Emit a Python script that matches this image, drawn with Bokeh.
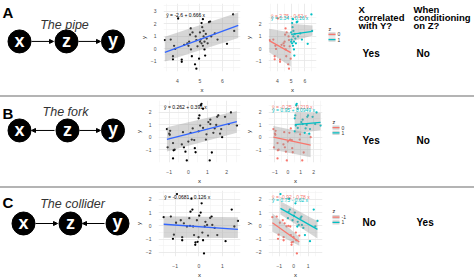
from bokeh.plotting import figure
from bokeh.models import Range1d, FixedTicker, Arrow, NormalHead, Label, Div
from bokeh.layouts import row, column
from bokeh.core.properties import value
from bokeh.embed import file_html
from bokeh.resources import INLINE

FONT = "Liberation Sans"
RED = "#F8766D"
TEAL = "#00BFC4"
BLUE = "#3366FF"

# ---------------- data ----------------
# Row A: the pipe
a_x = [3.44, 3.70, 3.85, 3.90, 3.80, 3.80, 4.19, 4.19, 4.03, 4.30, 4.44, 4.49, 4.52, 4.56, 4.59, 4.64,
       4.60, 4.81, 4.84, 4.89, 4.78, 4.84, 4.96, 5.00, 5.03, 5.07, 5.07, 5.10, 5.13, 5.16, 5.16, 5.20,
       5.23, 5.26, 5.30, 5.34, 5.13, 5.40, 5.45, 5.50, 5.66, 5.78, 6.20, 6.47, 6.52, 5.00, 4.67, 5.20]
a_y = [0.68, 0.72, 0.22, -0.03, -0.62, -0.87, -0.90, -1.07, 2.42, 0.30, 0.42, 0.22, 0.55, 1.12, 1.62, -0.62,
       -0.07, 0.98, 0.68, 0.18, -1.27, -1.62, -0.82, 1.30, 0.72, 0.42, 2.05, 1.72, 2.37, 1.42, 0.98, 0.55,
       -0.57, 1.18, 0.80, 0.42, 0.22, 2.12, 2.17, 0.98, 1.22, 0.72, 0.38, 2.75, 1.42, 0.55, 1.30, -0.07]
a_z = [0, 0, 0, 0, 0, 0, 0, 0, 0, 0, 0, 0, 0, 0, 0, 0,
       0, 0, 0, 0, 0, 0, 0, 1, 1, 1, 1, 1, 1, 1, 1, 1,
       1, 1, 1, 1, 1, 1, 1, 1, 1, 1, 1, 1, 1, 1, 0, 1]
a_fit = (-2.6, 0.666)
a_fit_ext = [3.44, 6.7]
a_band_lo = [-1.05, 0.85]
a_band_hi = [0.95, 2.9]
a_eq = "ŷ = -2.6 + 0.666 x"
a_groups = [0, 1]
a_gfit = [(2.75, -0.62), (0.34, 0.16)]
a_gext = [[3.40, 4.97], [5.0, 6.55]]
a_gband_lo = [[-0.3, -1.45], [0.55, 1.05]]
a_gband_hi = [[1.6, 1.3], [2.0, 1.85]]
a_geq = ["ŷ = 2.75 - 0.62 x", "ŷ = 0.34 + 0.16 x"]

# Row B: the fork
b_x = [-1.12, -0.95, -1.00, -0.97, -1.08, -0.80, -0.77, -0.72, -0.80, -0.34, -0.23, -0.15, -0.08, -0.28, 0.00, 0.12,
       0.18, 0.23, 0.31, 0.34, 0.38, 0.54, 0.58, 0.65, 0.69, 0.77, 0.62, 0.54, 0.77, 0.95, 0.92, 1.05,
       1.15, 1.15, 1.12, 1.23, 1.31, 1.38, 1.46, 1.51, 1.57, 1.66, 1.72, 1.77, 1.92, 2.12, 2.23, 2.54]
b_y = [0.65, 0.51, 0.28, 0.19, -0.81, -0.47, -1.05, -1.00, -1.70, -0.58, -0.81, -1.16, -1.86, 0.40, -0.35, 0.35,
       -0.19, 0.70, -0.23, -0.88, -1.21, 1.51, 1.74, 2.56, 2.67, 2.28, 0.93, 0.47, 0.74, 0.23, -0.19, 1.21,
       1.40, 1.05, -1.86, -1.23, 0.35, 0.70, 0.98, 1.63, 1.74, 0.28, 0.65, 0.00, 1.63, 1.05, 1.98, 0.93]
b_z = [0, 0, 0, 0, 0, 0, 0, 0, 0, 0, 0, 0, 0, 0, 0, 0,
       0, 0, 0, 0, 0, 1, 1, 1, 1, 1, 1, 1, 1, 0, 0, 1,
       1, 1, 0, 0, 1, 1, 1, 1, 1, 1, 1, 0, 1, 1, 1, 1]
b_fit = (0.262, 0.391)
b_fit_ext = [-1.12, 2.54]
b_band_lo = [-1.15, 0.35]
b_band_hi = [0.8, 2.1]
b_eq = "ŷ = 0.262 + 0.391 x"
b_groups = [0, 1]
b_gfit = [(-0.25, -0.219), (0.95, 0.0949)]
b_gext = [[-1.12, 1.77], [0.54, 2.54]]
b_gband_lo = [[-1.0, -1.6], [0.3, 0.55]]
b_gband_hi = [[0.9, 0.3], [2.0, 1.95]]
b_geq = ["ŷ = -0.25 - 0.219 x", "ŷ = 0.95 + 0.0949 x"]

# Row C: the collider
c_x = [-1.48, -1.18, -0.92, -0.96, -1.05, -1.09, -0.70, -0.70, -0.63, -0.50, -0.40, -0.35, -0.31, -0.27,
       -0.24, -0.20, -0.15, -0.14, -0.08, -0.05, -0.01, 0.02, 0.08, 0.12, 0.15, 0.18, 0.22, 0.25, 0.28,
       0.35, 0.39, 0.48, 0.54, 0.57, 0.67, 0.78, 1.13, 1.39, 1.50, 1.65, -0.76, -0.37]
c_y = [0.65, 0.70, 2.40, 0.23, -0.67, -0.98, -1.09, -0.86, 0.19, -0.05, 0.58, 1.07, 2.05, 1.23,
       -0.05, -0.70, -1.44, -1.26, 0.42, -1.21, -0.86, 0.77, 1.00, 1.70, -0.51, -1.09, -2.09, -0.05, 0.30,
       0.07, -0.74, 0.60, 0.70, 0.07, -0.16, -0.70, -1.16, 1.23, -0.05, 0.37, 0.42, 0.00]
c_z = [-1, -1, 1, -1, -1, -1, -1, -1, -1, -1, 1, 1, 1, 1,
       -1, -1, -1, -1, 1, -1, -1, 1, 1, 1, -1, -1, -1, 1, 1,
       1, -1, 1, 1, 1, 1, 1, 1, 1, 1, 1, -1, -1]
c_fit = (-0.0681, -0.126)
c_fit_ext = [-1.48, 1.65]
c_band_lo = [-0.9, -0.93]
c_band_hi = [0.72, 0.65]
c_eq = "ŷ = -0.0681 - 0.126 x"
c_groups = [-1, 1]
c_gfit = [(-0.92, -0.78), (0.75, -0.62)]
c_gext = [[-1.48, 0.39], [-0.92, 1.65]]
c_gband_lo = [[-0.45, -1.5], [0.85, -0.95]]
c_gband_hi = [[0.95, -0.85], [1.85, 0.35]]
c_geq = ["ŷ = -0.92 - 0.78 x", "ŷ = 0.75 - 0.62 x"]

row_letters = ["A", "B", "C"]
row_titles = ["The pipe", "The fork", "The collider"]
header_1 = ["X", "correlated", "with Y?"]
header_2 = ["When", "conditioning", "on Z?"]
answers_1 = ["Yes", "Yes", "No"]
answers_2 = ["No", "No", "Yes"]

# ---------------- layout constants ----------------
H = [95, 89, 92]
W_DIAG, W_S1, W_ANS = 132, 110, 124
GROUP_COLORS = [RED, TEAL]
PT_SIZE = 2.3


def minors(t):
    return [v - 0.5 for v in t] + [t[-1] + 0.5]


def scatter_fig(h, xr, yr, xt, yt, bl, br, bt, bb, w):
    p = figure(width=w, height=h, x_range=Range1d(*xr), y_range=Range1d(*yr),
               output_backend="svg", toolbar_location=None,
               min_border_left=bl, min_border_right=br, min_border_top=bt, min_border_bottom=bb,
               outline_line_color=None, background_fill_color="white", border_fill_color="white")
    p.xaxis.ticker = FixedTicker(ticks=xt, minor_ticks=minors(xt))
    p.yaxis.ticker = FixedTicker(ticks=yt, minor_ticks=minors(yt))
    p.xaxis.axis_label = "x"
    p.yaxis.axis_label = "y"
    for ax in p.xaxis + p.yaxis:
        ax.axis_line_color = None
        ax.major_tick_line_color = None
        ax.minor_tick_line_color = None
        ax.major_label_text_font_size = "5px"
        ax.major_label_text_color = "#4d4d4d"
        ax.major_label_text_font = FONT
        ax.major_label_standoff = 1
        ax.axis_label_text_font_size = "6px"
        ax.axis_label_text_font = FONT
        ax.axis_label_text_font_style = "normal"
        ax.axis_label_text_color = "#222222"
        ax.axis_label_standoff = 1
    for g in (p.xgrid, p.ygrid):
        g.grid_line_color = "#e6e6e6"
        g.grid_line_width = 0.8
        g.minor_grid_line_color = "#f2f2f2"
        g.minor_grid_line_width = 0.6
    return p


def single_panel(p, xs, ys, fit, ext, lo, hi, eq, eq_x, eq_y):
    p.scatter(xs, ys, size=PT_SIZE, fill_color="black", line_color=None)
    p.varea(x=ext, y1=lo, y2=hi, fill_color="#999999", fill_alpha=0.4)
    p.line(ext, [fit[0] + fit[1] * e for e in ext], line_color=BLUE, line_width=1.3)
    p.add_layout(Label(x=eq_x, y=eq_y, text=eq, text_font_size="5px", text_font=FONT,
                       text_baseline="middle", text_color="black"))


def group_panel(p, xs, ys, zs, groups, gfit, gext, glo, ghi, geq, eq_x, eq_ys):
    for g, col, fit, ext, lo, hi, eq, ey in zip(groups, GROUP_COLORS, gfit, gext, glo, ghi, geq, eq_ys):
        gx = [x for x, z in zip(xs, zs) if z == g]
        gy = [y for y, z in zip(ys, zs) if z == g]
        p.scatter(gx, gy, size=PT_SIZE, fill_color=col, line_color=None)
        p.varea(x=ext, y1=lo, y2=hi, fill_color="#999999", fill_alpha=0.4)
        p.line(ext, [fit[0] + fit[1] * e for e in ext], line_color=col, line_width=1.3)
        p.add_layout(Label(x=eq_x, y=ey, text=eq, text_font_size="5px", text_font=FONT,
                           text_baseline="middle", text_color=col))


def legend_fig(h, w, groups, x0, y_title):
    """Legend drawn as its own small canvas in pixel units (y grows downward)."""
    p = figure(width=w, height=h, x_range=Range1d(0, w), y_range=Range1d(h, 0),
               output_backend="svg", toolbar_location=None, x_axis_type=None, y_axis_type=None,
               min_border=0, outline_line_color=None)
    p.grid.visible = False
    p.text(x=[x0], y=[y_title], text=["z"], text_font=value(FONT), text_font_size="5.5px",
           text_baseline="middle", text_color="#222222")
    key_y = [y_title + 8 + 7.5 * i for i in range(len(groups))]
    p.rect(x=[x0 + 3.5] * len(groups), y=key_y, width=7, height=6, fill_color="#999999",
           fill_alpha=0.4, line_color=None)
    p.segment(x0=[x0] * len(groups), y0=key_y, x1=[x0 + 7] * len(groups), y1=key_y,
              line_color=GROUP_COLORS[:len(groups)], line_width=1.2)
    p.text(x=[x0 + 9] * len(groups), y=key_y, text=[str(g) for g in groups], text_font=value(FONT),
           text_font_size="5px", text_baseline="middle", text_color="#333333")
    return p


def diagram(h, letter, title, letter_y, title_xy, nodes_x, node_y, arrows):
    p = figure(width=W_DIAG, height=h, x_range=Range1d(0, W_DIAG), y_range=Range1d(h, 0),
               output_backend="svg", toolbar_location=None, x_axis_type=None, y_axis_type=None,
               min_border=0, outline_line_color=None)
    p.grid.visible = False
    p.text(x=[2], y=[letter_y], text=[letter], text_font=value(FONT), text_font_style="bold",
           text_font_size="15px", text_baseline="middle", text_align="left", text_color="black")
    p.text(x=[title_xy[0]], y=[title_xy[1]], text=[title], text_font=value(FONT),
           text_font_style="italic", text_font_size="12.5px", text_baseline="middle",
           text_align="center", text_color="#333333")
    for (x0, x1) in arrows:
        p.add_layout(Arrow(end=NormalHead(size=4, fill_color="black", line_color="black"),
                           x_start=x0, y_start=node_y, x_end=x1, y_end=node_y,
                           line_color="black", line_width=1))
    p.circle(x=nodes_x, y=[node_y] * 3, radius=11.5, color="black")
    p.text(x=nodes_x, y=[node_y - 1, node_y - 1, node_y - 2], text=["x", "z", "y"], text_font=value(FONT),
           text_font_style="bold", text_font_size="18px", text_baseline="middle",
           text_align="center", text_color="white")
    return p


def answers(h, show_header, ans1, ans2, ans_y):
    p = figure(width=W_ANS, height=h, x_range=Range1d(0, W_ANS), y_range=Range1d(h, 0),
               output_backend="svg", toolbar_location=None, x_axis_type=None, y_axis_type=None,
               min_border=0, outline_line_color=None)
    p.grid.visible = False
    if show_header:
        p.text(x=[8] * 3, y=[8, 20, 31], text=header_1, text_font=value(FONT), text_font_style="bold",
               text_font_size="9.5px", text_baseline="middle", text_color="black")
        p.text(x=[63] * 3, y=[8, 20, 31], text=header_2, text_font=value(FONT), text_font_style="bold",
               text_font_size="9.5px", text_baseline="middle", text_color="black")
    p.text(x=[12, 66], y=[ans_y, ans_y], text=[ans1, ans2], text_font=value(FONT), text_font_style="bold",
           text_font_size="10px", text_baseline="middle", text_color="black")
    return p


# ---------------- Row A ----------------
dA = diagram(H[0], row_letters[0], row_titles[0], 12, (64, 30), [19, 66, 112.5], 53,
             [(31, 53), (78, 100)])
sA1 = scatter_fig(H[0], (3.38, 6.8), (-1.85, 3.63), [4, 5, 6], [-1, 0, 1, 2, 3], 31, 2, 3, 18, W_S1)
single_panel(sA1, a_x, a_y, a_fit, a_fit_ext, a_band_lo, a_band_hi, a_eq, 3.5, 2.74)
sA2 = scatter_fig(H[0], (3.35, 6.84), (-1.85, 3.63), [4, 5, 6], [-1, 0, 1, 2], 20, 2, 3, 18, 76)
group_panel(sA2, a_x, a_y, a_z, a_groups, a_gfit, a_gext, a_gband_lo, a_gband_hi, a_geq, 3.54, [2.64, 2.43])
lA = legend_fig(H[0], 32, a_groups, 10, 35)
ansA = answers(H[0], True, answers_1[0], answers_2[0], 70)

# ---------------- Row B ----------------
dB = diagram(H[1], row_letters[1], row_titles[1], 18, (65, 17), [19, 67, 112.5], 43,
             [(54, 31), (79, 100)])
sB1 = scatter_fig(H[1], (-1.56, 2.73), (-2.03, 2.94), [-1, 0, 1, 2], [-1, 0, 1, 2], 20, 2, 3, 15, W_S1)
single_panel(sB1, b_x, b_y, b_fit, b_fit_ext, b_band_lo, b_band_hi, b_eq, -1.27, 2.38)
sB2 = scatter_fig(H[1], (-1.5, 2.69), (-2.03, 2.94), [-1, 0, 1, 2], [-1, 0, 1, 2], 20, 2, 3, 15, 82)
group_panel(sB2, b_x, b_y, b_z, b_groups, b_gfit, b_gext, b_gband_lo, b_gband_hi, b_geq, -1.22, [2.38, 2.17])
lB = legend_fig(H[1], 26, b_groups, 8, 31)
ansB = answers(H[1], False, answers_1[1], answers_2[1], 57)

# ---------------- Row C ----------------
dC = diagram(H[2], row_letters[2], row_titles[2], 17, (72, 19), [23, 70, 117], 46,
             [(35, 57), (104, 82)])
sC1 = scatter_fig(H[2], (-1.7, 1.76), (-2.32, 2.67), [-1, 0, 1], [-2, -1, 0, 1, 2], 20, 2, 2, 19, W_S1)
single_panel(sC1, c_x, c_y, c_fit, c_fit_ext, c_band_lo, c_band_hi, c_eq, -1.46, 2.18)
sC2 = scatter_fig(H[2], (-1.75, 2.0), (-2.32, 2.67), [-1, 0, 1], [-2, -1, 0, 1, 2], 20, 2, 2, 19, 82)
group_panel(sC2, c_x, c_y, c_z, c_groups, c_gfit, c_gext, c_gband_lo, c_gband_hi, c_geq, -1.5, [2.18, 1.96])
lC = legend_fig(H[2], 26, c_groups, 8, 29)
ansC = answers(H[2], False, answers_1[2], answers_2[2], 45)


def sep():
    return Div(text="", width=474, height=2, margin=(0, 0, 0, 0),
               styles={"background-color": "#b4b4b4"})


layout = column(row(dA, sA1, sA2, lA, ansA), sep(), row(dB, sB1, sB2, lB, ansB), sep(),
                row(dC, sC1, sC2, lC, ansC))

open("out.html", "w").write(file_html(layout, INLINE))
